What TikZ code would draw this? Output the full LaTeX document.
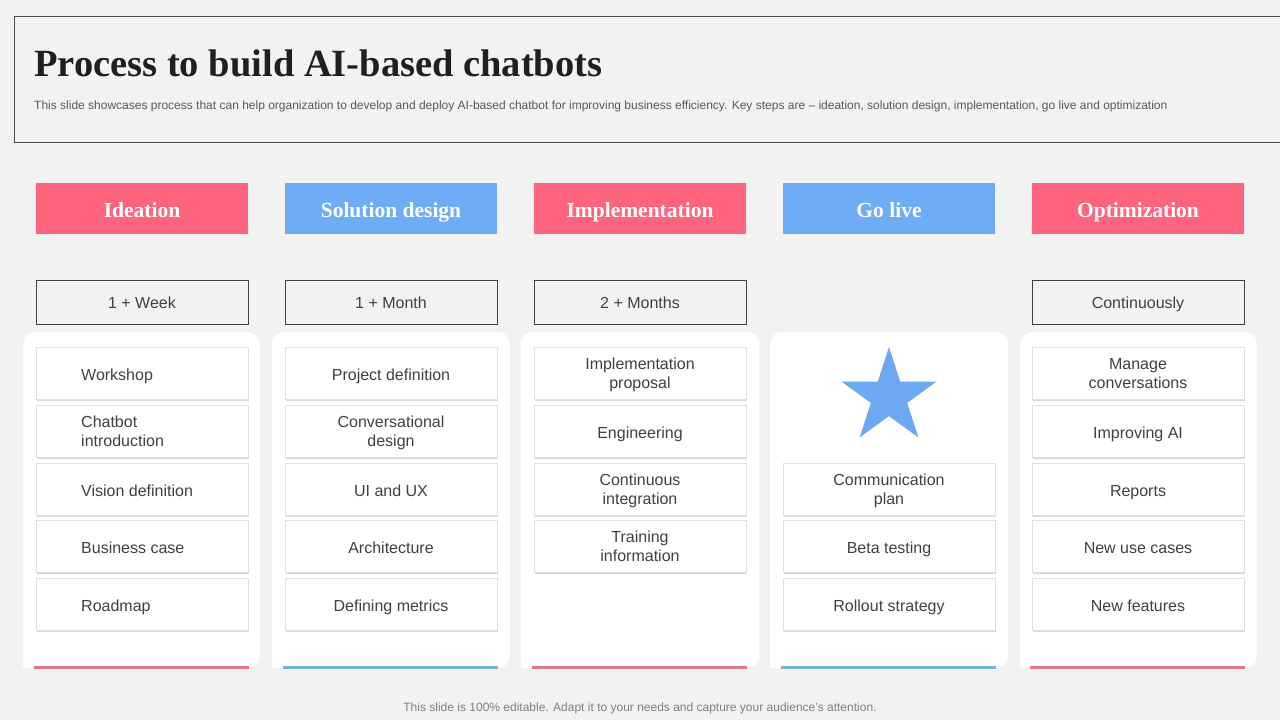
\documentclass[tikz,border=0pt]{standalone}
\usepackage{fontspec}
\setmainfont{Liberation Sans}
\newfontfamily\headfont{Liberation Serif}
\usetikzlibrary{shapes.geometric,shadows}
\definecolor{bg}{HTML}{F2F2F2}
\definecolor{pinkh}{HTML}{FF647E}
\definecolor{blueh}{HTML}{6EACF5}
\definecolor{pinkl}{HTML}{DC7888}
\definecolor{bluel}{HTML}{7AB4CE}
\definecolor{txt}{HTML}{404040}
\definecolor{starblue}{HTML}{6EA8F2}
\tikzset{
  header/.style={minimum width=212pt, minimum height=51pt, inner sep=0pt, text=white, text height=18pt, text depth=1pt, font=\headfont\bfseries\fontsize{21.5}{21.5}\selectfont},
  durbox/.style={draw=txt, line width=0.9pt, fill=bg, minimum width=212pt, minimum height=44pt, inner sep=0pt, text=txt, text height=13.5pt, text depth=1.5pt, font=\fontsize{16}{16}\selectfont},
  itembox/.style={draw=black!12, line width=0.6pt, fill=white, minimum width=212pt, minimum height=52pt, inner sep=0pt,
    drop shadow={shadow xshift=1pt, shadow yshift=-1.5pt, opacity=0.15, fill=black}},
  itemtext/.style={text=txt, align=center, inner sep=0pt, font=\fontsize{16}{19}\selectfont,
    execute at begin node=\strut, execute at end node=\strut},
  itemtextl/.style={itemtext, align=left, anchor=west},
}
\newcommand\itm[4]{%
  \node[itembox] (#1) at (#2,#3) {};
  \node[itemtext] (#1t) at (#2,#3+3.3) {#4};
}
\newcommand\itml[4]{%
  \node[itembox] (#1) at (#2,#3) {};
  \node[itemtextl] (#1t) at (81,#3+3.3) {#4};
}
\begin{document}
\begin{tikzpicture}[x=1pt,y=-1pt]
\useasboundingbox (0,0) rectangle (1280,720);
\fill[bg] (0,0) rectangle (1280,720);
% title box
\draw[line width=1pt, draw=black!70] (1282,16) -- (14,16) -- (14,142) -- (1282,142);
\node[anchor=base west, inner sep=0pt, text=black!88, font=\headfont\bfseries\fontsize{38.5}{38.5}\selectfont] (title) at (34,76) {Process to build AI-based chatbots};
\node[anchor=base west, inner sep=0pt, text=black!65, font=\fontsize{12}{12}\selectfont] (sub) at (34,109) {This slide showcases process that can help organization to develop and deploy AI-based chatbot for improving business efficiency. Key steps are -- ideation, solution design, implementation, go live and optimization};
% panels
\foreach \px/\pw in {23/237,272/238,521/238,770/238,1020/237}{
  \fill[white, rounded corners=12pt] (\px,668) -- (\px,332) -- (\px+\pw,332) -- (\px+\pw,668) [sharp corners] -- cycle;
}
% headers
\node[header, fill=pinkh] (h1) at (142,208.5) {Ideation};
\node[header, fill=blueh] (h2) at (391,208.5) {Solution design};
\node[header, fill=pinkh] (h3) at (640,208.5) {Implementation};
\node[header, fill=blueh] (h4) at (889,208.5) {Go live};
\node[header, fill=pinkh] (h5) at (1138,208.5) {Optimization};
% durations
\node[durbox] (d1) at (142,302) {1 + Week};
\node[durbox] (d2) at (391,302) {1 + Month};
\node[durbox] (d3) at (640,302) {2 + Months};
\node[durbox] (d5) at (1138,302) {Continuously};
% column 1
\itml{a1}{142}{373}{Workshop}
\itml{a2}{142}{431}{Chatbot\\introduction}
\itml{a3}{142}{489}{Vision definition}
\itml{a4}{142}{546}{Business case}
\itml{a5}{142}{604}{Roadmap}
% column 2
\itm{b1}{391}{373}{Project definition}
\itm{b2}{391}{431}{Conversational\\design}
\itm{b3}{391}{489}{UI and UX}
\itm{b4}{391}{546}{Architecture}
\itm{b5}{391}{604}{Defining metrics}
% column 3
\itm{c1}{640}{373}{Implementation\\proposal}
\itm{c2}{640}{431}{Engineering}
\itm{c3}{640}{489}{Continuous\\integration}
\itm{c4}{640}{546}{Training\\information}
% column 4
\node[star, star points=5, star point ratio=2.618, fill=starblue, minimum size=100pt, inner sep=0pt] (st) at (889,397) {};
\itm{e3}{889}{489}{Communication\\plan}
\itm{e4}{889}{546}{Beta testing}
\itm{e5}{889}{604}{Rollout strategy}
% column 5
\itm{f1}{1138}{373}{Manage\\conversations}
\itm{f2}{1138}{431}{Improving AI}
\itm{f3}{1138}{489}{Reports}
\itm{f4}{1138}{546}{New use cases}
\itm{f5}{1138}{604}{New features}
% bottom lines
\foreach \lx/\lc in {34/pinkl,283/bluel,532/pinkl,781/bluel,1030/pinkl}{
  \fill[\lc] (\lx,666) rectangle (\lx+215,668.5);
}
% footer
\node[inner sep=0pt, text=black!50, font=\fontsize{12}{12}\selectfont] (foot) at (640,708) {This slide is 100\% editable. Adapt it to your needs and capture your audience's attention.};
\end{tikzpicture}
\end{document}
